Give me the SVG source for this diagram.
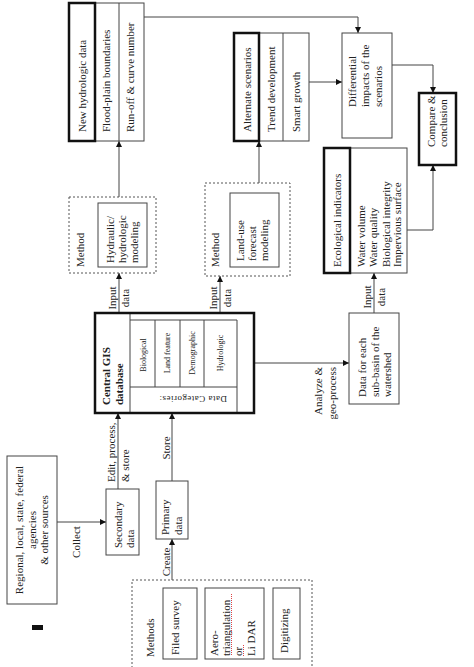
<svg xmlns="http://www.w3.org/2000/svg" width="474" height="667" viewBox="0 0 474 667">
<defs>
<style>
.b{fill:#fff;stroke:#444;stroke-width:1}
.k{fill:none;stroke:#111;stroke-width:2.5}
.d{fill:none;stroke:#555;stroke-width:1;stroke-dasharray:2,2}
.l{fill:none;stroke:#444;stroke-width:1}
.c{fill:none;stroke:#444;stroke-width:1}
text{font-family:"Liberation Serif","Times New Roman",serif;font-size:11px;fill:#222;dominant-baseline:central}
.m{text-anchor:middle}
.e{text-anchor:end}
.bold{font-weight:bold}
.s{font-size:8px}
.red{fill:none;stroke:#d44;stroke-width:1;stroke-dasharray:1,1}
</style>
<marker id="a" viewBox="0 0 10 10" refX="10" refY="5" markerWidth="6" markerHeight="6" orient="auto" markerUnits="userSpaceOnUse">
<path d="M0,0 L10,5 L0,10 z" fill="#111"/>
</marker>
</defs>
<rect width="474" height="667" fill="#fff"/>

<g id="connectors">
<path class="c" d="M57,522 H106" marker-end="url(#a)"/>
<path class="c" d="M118,489 V413" marker-end="url(#a)"/>
<path class="c" d="M172,481 V413" marker-end="url(#a)"/>
<path class="c" d="M172,580 V539" marker-end="url(#a)"/>
<path class="c" d="M119,313 V273" marker-end="url(#a)"/>
<path class="c" d="M220,313 V276" marker-end="url(#a)"/>
<path class="c" d="M119,197 V141" marker-end="url(#a)"/>
<path class="c" d="M259,183 V141" marker-end="url(#a)"/>
<path class="c" d="M144,17 H358 V33" marker-end="url(#a)"/>
<path class="c" d="M309,82 H342" marker-end="url(#a)"/>
<path class="c" d="M392,65 H433 V93" marker-end="url(#a)"/>
<path class="c" d="M407,230 H433 V165" marker-end="url(#a)"/>
<path class="c" d="M254,363 H349" marker-end="url(#a)"/>
<path class="c" d="M374,313 V273" marker-end="url(#a)"/>
<text class="m" transform="translate(76,542) rotate(-90)">Collect</text>
<text transform="translate(111,482) rotate(-90)">Edit, process,</text>
<text transform="translate(125,482) rotate(-90)">&amp; store</text>
<text class="m" transform="translate(166,448) rotate(-90)">Store</text>
<text class="m" transform="translate(166,562) rotate(-90)">Create</text>
<text class="m" transform="translate(112,298) rotate(-90)">Input</text>
<text class="m" transform="translate(125,298) rotate(-90)">data</text>
<text class="m" transform="translate(213,298) rotate(-90)">Input</text>
<text class="m" transform="translate(227,298) rotate(-90)">data</text>
<text class="e" transform="translate(318,367) rotate(-90)">Analyze &amp;</text>
<text class="e" transform="translate(332,367) rotate(-90)">geo-process</text>
<text class="m" transform="translate(367,297) rotate(-90)">Input</text>
<text class="m" transform="translate(381,297) rotate(-90)">data</text>
</g>

<rect x="32" y="625" width="11" height="5" fill="#111"/>

<g id="regional">
<rect class="b" x="7" y="456" width="50" height="148"/>
<text class="m" transform="translate(19,530) rotate(-90)">Regional, local, state, federal</text>
<text class="m" transform="translate(32,530) rotate(-90)">agencies</text>
<text class="m" transform="translate(44,530) rotate(-90)">&amp; other sources</text>
</g>

<g id="secondary">
<rect class="b" x="106" y="489" width="33" height="66"/>
<text transform="translate(118,548) rotate(-90)">Secondary</text>
<text transform="translate(130,548) rotate(-90)">data</text>
</g>

<g id="primary">
<rect class="b" x="156" y="481" width="32" height="58"/>
<text transform="translate(165,535) rotate(-90)">Primary</text>
<text transform="translate(178,535) rotate(-90)">data</text>
</g>

<g id="methods">
<rect class="d" x="132" y="580" width="180" height="100"/>
<text transform="translate(150,657) rotate(-90)">Methods</text>
<rect class="b" x="163" y="588" width="34" height="71"/>
<text transform="translate(175,655) rotate(-90)">Filed survey</text>
<rect class="b" x="205" y="588" width="59" height="71"/>
<text transform="translate(214,656) rotate(-90)">Aero-</text>
<text transform="translate(226,656) rotate(-90)">triangulation</text>
<text transform="translate(238,656) rotate(-90)">or</text>
<text transform="translate(251,656) rotate(-90)">Li DAR</text>
<path class="red" d="M231.5,594 V656 M243.5,645 V656"/>
<rect class="b" x="273" y="588" width="27" height="71"/>
<text transform="translate(284,653) rotate(-90)">Digitizing</text>
</g>

<g id="central-gis">
<rect fill="#fff" x="95" y="313" width="159" height="100"/>
<path class="l" d="M130,313 V413 M130,320 H237 M130,387 H237 M155,320 V387 M180,320 V387 M204,320 V387 M237,320 V413"/>
<rect class="k" x="95" y="313" width="159" height="100"/>
<text class="bold" transform="translate(106,405) rotate(-90)">Central GIS</text>
<text class="bold" transform="translate(119,405) rotate(-90)">database</text>
<text class="m s" transform="translate(143,355) rotate(-90)">Biological</text>
<text class="m s" transform="translate(167,353) rotate(-90)">Land feature</text>
<text class="m s" transform="translate(192,353) rotate(-90)">Demographic</text>
<text class="m s" transform="translate(220,353) rotate(-90)">Hydrologic</text>
<text class="m s" transform="translate(193,399) rotate(180)" style="font-size:9px;letter-spacing:0.5px">Data Categories:</text>
</g>

<g id="hydraulic-method">
<rect class="d" x="69" y="197" width="87" height="76"/>
<text transform="translate(80,267) rotate(-90)">Method</text>
<rect class="b" x="98" y="203" width="49" height="64"/>
<text transform="translate(110,263) rotate(-90)">Hydraulic/</text>
<text transform="translate(122,263) rotate(-90)">hydrologic</text>
<text transform="translate(134,263) rotate(-90)">modeling</text>
</g>

<g id="new-hydrologic">
<rect class="b" x="69" y="3" width="75" height="138"/>
<path class="l" d="M119,3 V141"/>
<rect class="k" x="69" y="3" width="26" height="138"/>
<text transform="translate(82,132) rotate(-90)">New hydrologic data</text>
<text transform="translate(106,132) rotate(-90)">Flood-plain boundaries</text>
<text transform="translate(130,132) rotate(-90)">Run-off &amp; curve number</text>
</g>

<g id="landuse-method">
<rect class="d" x="205" y="183" width="85" height="93"/>
<text transform="translate(215,267) rotate(-90)">Method</text>
<rect class="b" x="230" y="193" width="49" height="74"/>
<text transform="translate(240,261) rotate(-90)">Land-use</text>
<text transform="translate(252,261) rotate(-90)">forecast</text>
<text transform="translate(264,261) rotate(-90)">modeling</text>
</g>

<g id="alternate">
<rect class="b" x="234" y="33" width="75" height="108"/>
<path class="l" d="M283,33 V141"/>
<rect class="k" x="234" y="33" width="25" height="108"/>
<text transform="translate(247,132) rotate(-90)">Alternate scenarios</text>
<text transform="translate(271,132) rotate(-90)">Trend development</text>
<text transform="translate(296,132) rotate(-90)">Smart growth</text>
</g>

<g id="differential">
<rect class="b" x="342" y="33" width="50" height="105"/>
<text transform="translate(352,107) rotate(-90)">Differential</text>
<text transform="translate(365,107) rotate(-90)">impacts of the</text>
<text transform="translate(378,107) rotate(-90)">scenarios</text>
</g>

<g id="compare">
<rect fill="#fff" class="k" x="419" y="93" width="37" height="72"/>
<text transform="translate(431,147) rotate(-90)">Compare &amp;</text>
<text transform="translate(443,147) rotate(-90)">conclusion</text>
</g>

<g id="ecological">
<rect class="b" x="324" y="148" width="83" height="125"/>
<rect class="k" x="324" y="148" width="26" height="125"/>
<text transform="translate(337,267) rotate(-90)">Ecological indicators</text>
<text transform="translate(361,267) rotate(-90)">Water volume</text>
<text transform="translate(373,267) rotate(-90)">Water quality</text>
<text transform="translate(386,267) rotate(-90)">Biological integrity</text>
<text transform="translate(397,267) rotate(-90)">Impervious surface</text>
</g>

<g id="sub-basin">
<rect class="b" x="349" y="313" width="50" height="91"/>
<text transform="translate(362,397) rotate(-90)">Data for each</text>
<text transform="translate(375,397) rotate(-90)">sub-basin of the</text>
<text transform="translate(387,397) rotate(-90)">watershed</text>
</g>
</svg>
